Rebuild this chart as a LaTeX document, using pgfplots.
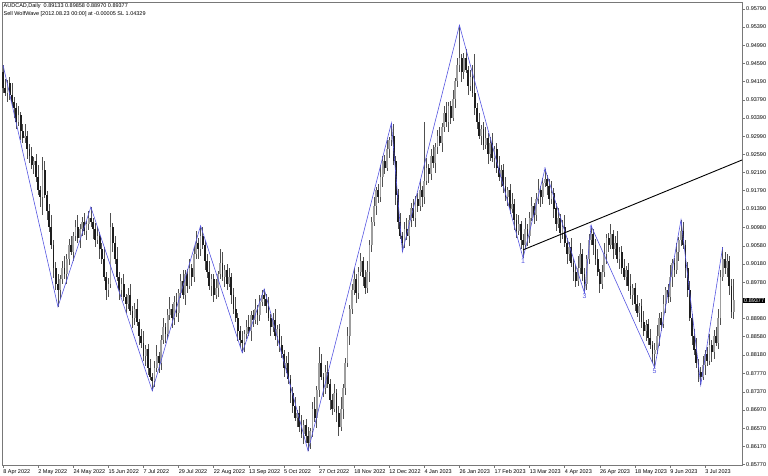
\documentclass[border=0pt]{standalone}
\usepackage{fontspec}
\setmainfont{Liberation Sans}
\usepackage{pgfplots}
\usepackage{pgfplotstable}
\pgfplotsset{compat=1.18}

\definecolor{zz}{RGB}{85,85,225}
\definecolor{bull}{RGB}{158,158,158}
\definecolor{bear}{RGB}{30,30,30}
\definecolor{wick}{RGB}{80,80,80}
\definecolor{frame}{RGB}{120,120,120}

% daily AUDCAD bars: bar index, open, high, low, close
\pgfplotstableread{
i o h l c
0 0.9440 0.9455 0.9395 0.9405
1 0.9405 0.9425 0.9387 0.9395
2 0.9395 0.9423 0.9375 0.9415
3 0.9415 0.9430 0.9378 0.9390
4 0.9390 0.9415 0.9365 0.9375
5 0.9375 0.9385 0.9338 0.9360
6 0.9360 0.9372 0.9315 0.9330
7 0.9330 0.9365 0.9322 0.9345
8 0.9345 0.9353 0.9290 0.9310
9 0.9310 0.9325 0.9283 0.9295
10 0.9295 0.9325 0.9285 0.9300
11 0.9300 0.9310 0.9248 0.9270
12 0.9270 0.9282 0.9240 0.9255
13 0.9255 0.9275 0.9227 0.9235
14 0.9235 0.9253 0.9215 0.9245
15 0.9245 0.9260 0.9198 0.9210
16 0.9210 0.9235 0.9170 0.9180
17 0.9180 0.9190 0.9143 0.9165
18 0.9165 0.9253 0.9125 0.9225
19 0.9225 0.9245 0.9162 0.9170
20 0.9170 0.9178 0.9115 0.9135
21 0.9135 0.9150 0.9088 0.9100
22 0.9100 0.9125 0.9050 0.9060
23 0.9060 0.9070 0.8988 0.9010
24 0.9010 0.9022 0.8960 0.8975
25 0.8975 0.8995 0.8924 0.8960
26 0.8960 0.8993 0.8940 0.8985
27 0.8985 0.9025 0.8973 0.9010
28 0.9010 0.9035 0.8985 0.8995
29 0.8995 0.9040 0.8973 0.9030
30 0.9030 0.9072 0.9015 0.9060
31 0.9060 0.9080 0.9037 0.9045
32 0.9045 0.9088 0.9025 0.9080
33 0.9080 0.9115 0.9068 0.9100
34 0.9100 0.9125 0.9065 0.9075
35 0.9075 0.9105 0.9053 0.9095
36 0.9095 0.9122 0.9080 0.9110
37 0.9110 0.9130 0.9082 0.9090
38 0.9090 0.9113 0.9070 0.9105
39 0.9105 0.9135 0.9093 0.9120
40 0.9120 0.9143 0.9100 0.9110
41 0.9110 0.9120 0.9073 0.9095
42 0.9095 0.9107 0.9055 0.9070
43 0.9070 0.9100 0.9062 0.9080
44 0.9080 0.9088 0.9030 0.9050
45 0.9050 0.9065 0.9018 0.9030
46 0.9030 0.9055 0.8980 0.8990
47 0.8990 0.9000 0.8938 0.8960
48 0.8960 0.8987 0.8945 0.8975
49 0.8975 0.9130 0.8965 0.9100
50 0.9100 0.9108 0.9045 0.9065
51 0.9065 0.9080 0.9018 0.9030
52 0.9030 0.9055 0.8980 0.8990
53 0.8990 0.9000 0.8938 0.8960
54 0.8960 0.8987 0.8945 0.8975
55 0.8975 0.8995 0.8937 0.8945
56 0.8945 0.8953 0.8910 0.8930
57 0.8930 0.8965 0.8918 0.8950
58 0.8950 0.8975 0.8905 0.8915
59 0.8915 0.8925 0.8878 0.8900
60 0.8900 0.8932 0.8885 0.8920
61 0.8920 0.8940 0.8882 0.8890
62 0.8890 0.8898 0.8840 0.8860
63 0.8860 0.8875 0.8833 0.8845
64 0.8845 0.8870 0.8805 0.8815
65 0.8815 0.8840 0.8793 0.8830
66 0.8830 0.8842 0.8775 0.8790
67 0.8790 0.8810 0.8762 0.8770
68 0.8770 0.8778 0.8739 0.8760
69 0.8760 0.8805 0.8748 0.8790
70 0.8790 0.8840 0.8780 0.8815
71 0.8815 0.8825 0.8778 0.8800
72 0.8800 0.8862 0.8785 0.8850
73 0.8850 0.8900 0.8842 0.8880
74 0.8880 0.8888 0.8845 0.8865
75 0.8865 0.8920 0.8853 0.8905
76 0.8905 0.8945 0.8895 0.8920
77 0.8920 0.8930 0.8878 0.8900
78 0.8900 0.8947 0.8885 0.8935
79 0.8935 0.8955 0.8902 0.8910
80 0.8910 0.8963 0.8890 0.8955
81 0.8955 0.8995 0.8943 0.8980
82 0.8980 0.9005 0.8940 0.8950
83 0.8950 0.9005 0.8928 0.8995
84 0.8995 0.9007 0.8955 0.8970
85 0.8970 0.9030 0.8962 0.9010
86 0.9010 0.9018 0.8970 0.8990
87 0.8990 0.9055 0.8978 0.9040
88 0.9040 0.9090 0.9030 0.9065
89 0.9065 0.9075 0.9028 0.9050
90 0.9050 0.9102 0.9035 0.9080
91 0.9080 0.9100 0.9052 0.9060
92 0.9060 0.9068 0.9005 0.9025
93 0.9025 0.9040 0.8988 0.9000
94 0.9000 0.9025 0.8960 0.8970
95 0.8970 0.8995 0.8948 0.8985
96 0.8985 0.8997 0.8935 0.8950
97 0.8950 0.8985 0.8942 0.8965
98 0.8965 0.9003 0.8945 0.8995
99 0.8995 0.9050 0.8985 0.9020
100 0.9020 0.9045 0.8980 0.8990
101 0.8990 0.9015 0.8968 0.9005
102 0.9005 0.9017 0.8960 0.8975
103 0.8975 0.9010 0.8967 0.8990
104 0.8990 0.8998 0.8930 0.8950
105 0.8950 0.8965 0.8908 0.8920
106 0.8920 0.8945 0.8890 0.8900
107 0.8900 0.8910 0.8848 0.8870
108 0.8870 0.8882 0.8835 0.8850
109 0.8850 0.8870 0.8823 0.8845
110 0.8845 0.8873 0.8825 0.8865
111 0.8865 0.8895 0.8853 0.8880
112 0.8880 0.8905 0.8860 0.8870
113 0.8870 0.8915 0.8848 0.8905
114 0.8905 0.8917 0.8880 0.8895
115 0.8895 0.8940 0.8887 0.8920
116 0.8920 0.8928 0.8885 0.8905
117 0.8905 0.8950 0.8893 0.8935
118 0.8935 0.8960 0.8925 0.8950
119 0.8950 0.8963 0.8925 0.8940
120 0.8940 0.8952 0.8910 0.8925
121 0.8925 0.8945 0.8892 0.8900
122 0.8900 0.8908 0.8860 0.8880
123 0.8880 0.8910 0.8868 0.8895
124 0.8895 0.8920 0.8850 0.8860
125 0.8860 0.8885 0.8838 0.8875
126 0.8875 0.8887 0.8825 0.8840
127 0.8840 0.8860 0.8812 0.8820
128 0.8820 0.8828 0.8770 0.8790
129 0.8790 0.8815 0.8778 0.8800
130 0.8800 0.8825 0.8755 0.8765
131 0.8765 0.8775 0.8713 0.8735
132 0.8735 0.8747 0.8690 0.8705
133 0.8705 0.8725 0.8672 0.8680
134 0.8680 0.8698 0.8660 0.8690
135 0.8690 0.8705 0.8648 0.8660
136 0.8660 0.8685 0.8635 0.8645
137 0.8645 0.8675 0.8623 0.8665
138 0.8665 0.8677 0.8625 0.8640
139 0.8640 0.8660 0.8607 0.8625
140 0.8625 0.8658 0.8612 0.8650
141 0.8650 0.8715 0.8638 0.8700
142 0.8700 0.8725 0.8670 0.8680
143 0.8680 0.8750 0.8658 0.8740
144 0.8740 0.8835 0.8725 0.8800
145 0.8800 0.8820 0.8762 0.8770
146 0.8770 0.8778 0.8725 0.8745
147 0.8745 0.8795 0.8733 0.8780
148 0.8780 0.8805 0.8745 0.8755
149 0.8755 0.8765 0.8698 0.8720
150 0.8720 0.8732 0.8685 0.8700
151 0.8700 0.8755 0.8692 0.8735
152 0.8735 0.8743 0.8670 0.8690
153 0.8690 0.8705 0.8640 0.8660
154 0.8660 0.8725 0.8650 0.8700
155 0.8700 0.8755 0.8678 0.8745
156 0.8745 0.8812 0.8730 0.8800
157 0.8800 0.8880 0.8792 0.8860
158 0.8860 0.8928 0.8840 0.8920
159 0.8920 0.8975 0.8908 0.8960
160 0.8960 0.9010 0.8950 0.8985
161 0.8985 0.8995 0.8933 0.8955
162 0.8955 0.9012 0.8940 0.9000
163 0.9000 0.9042 0.8992 0.9025
164 0.9025 0.9033 0.8970 0.8990
165 0.8990 0.9005 0.8953 0.8965
166 0.8965 0.9025 0.8955 0.9000
167 0.9000 0.9070 0.8978 0.9060
168 0.9060 0.9122 0.9045 0.9110
169 0.9110 0.9165 0.9102 0.9145
170 0.9145 0.9188 0.9125 0.9180
171 0.9180 0.9195 0.9153 0.9165
172 0.9165 0.9235 0.9155 0.9210
173 0.9210 0.9255 0.9188 0.9245
174 0.9245 0.9257 0.9215 0.9230
175 0.9230 0.9290 0.9222 0.9270
176 0.9270 0.9298 0.9250 0.9290
177 0.9290 0.9328 0.9278 0.9300
178 0.9300 0.9325 0.9235 0.9245
179 0.9245 0.9255 0.9148 0.9170
180 0.9170 0.9182 0.9095 0.9110
181 0.9110 0.9130 0.9072 0.9080
182 0.9080 0.9088 0.9045 0.9065
183 0.9065 0.9110 0.9053 0.9095
184 0.9095 0.9120 0.9070 0.9080
185 0.9080 0.9125 0.9058 0.9115
186 0.9115 0.9152 0.9100 0.9140
187 0.9140 0.9160 0.9112 0.9120
188 0.9120 0.9168 0.9100 0.9160
189 0.9160 0.9175 0.9133 0.9145
190 0.9145 0.9205 0.9135 0.9180
191 0.9180 0.9190 0.9143 0.9165
192 0.9165 0.9330 0.9150 0.9200
193 0.9200 0.9250 0.9192 0.9230
194 0.9230 0.9238 0.9195 0.9215
195 0.9215 0.9270 0.9203 0.9255
196 0.9255 0.9280 0.9230 0.9240
197 0.9240 0.9285 0.9218 0.9275
198 0.9275 0.9312 0.9260 0.9300
199 0.9300 0.9320 0.9277 0.9285
200 0.9285 0.9328 0.9265 0.9320
201 0.9320 0.9365 0.9308 0.9350
202 0.9350 0.9375 0.9320 0.9330
203 0.9330 0.9375 0.9308 0.9365
204 0.9365 0.9377 0.9325 0.9340
205 0.9340 0.9400 0.9332 0.9380
206 0.9380 0.9428 0.9360 0.9420
207 0.9420 0.9470 0.9408 0.9455
208 0.9455 0.9543 0.9440 0.9470
209 0.9470 0.9480 0.9418 0.9440
210 0.9440 0.9482 0.9425 0.9470
211 0.9470 0.9490 0.9437 0.9445
212 0.9445 0.9453 0.9390 0.9410
213 0.9410 0.9445 0.9398 0.9430
214 0.9430 0.9455 0.9385 0.9395
215 0.9395 0.9480 0.9345 0.9360
216 0.9360 0.9372 0.9315 0.9330
217 0.9330 0.9350 0.9292 0.9300
218 0.9300 0.9323 0.9280 0.9315
219 0.9315 0.9330 0.9268 0.9280
220 0.9280 0.9320 0.9270 0.9295
221 0.9295 0.9305 0.9238 0.9260
222 0.9260 0.9297 0.9245 0.9285
223 0.9285 0.9305 0.9242 0.9250
224 0.9250 0.9278 0.9230 0.9270
225 0.9270 0.9285 0.9218 0.9230
226 0.9230 0.9255 0.9200 0.9210
227 0.9210 0.9235 0.9188 0.9225
228 0.9225 0.9237 0.9175 0.9190
229 0.9190 0.9210 0.9157 0.9165
230 0.9165 0.9188 0.9145 0.9180
231 0.9180 0.9195 0.9128 0.9140
232 0.9140 0.9175 0.9130 0.9150
233 0.9150 0.9160 0.9093 0.9115
234 0.9115 0.9127 0.9075 0.9090
235 0.9090 0.9125 0.9082 0.9105
236 0.9105 0.9113 0.9050 0.9070
237 0.9070 0.9085 0.9031 0.9060
238 0.9060 0.9120 0.9050 0.9095
239 0.9095 0.9105 0.9058 0.9080
240 0.9080 0.9132 0.9065 0.9120
241 0.9120 0.9165 0.9112 0.9145
242 0.9145 0.9153 0.9105 0.9125
243 0.9125 0.9175 0.9113 0.9160
244 0.9160 0.9205 0.9150 0.9180
245 0.9180 0.9190 0.9143 0.9165
246 0.9165 0.9207 0.9150 0.9195
247 0.9195 0.9227 0.9187 0.9205
248 0.9205 0.9213 0.9170 0.9190
249 0.9190 0.9205 0.9148 0.9160
250 0.9160 0.9200 0.9150 0.9175
251 0.9175 0.9185 0.9118 0.9140
252 0.9140 0.9152 0.9090 0.9105
253 0.9105 0.9140 0.9097 0.9120
254 0.9120 0.9128 0.9065 0.9085
255 0.9085 0.9115 0.9073 0.9100
256 0.9100 0.9125 0.9055 0.9065
257 0.9065 0.9075 0.9018 0.9040
258 0.9040 0.9067 0.9025 0.9055
259 0.9055 0.9075 0.9012 0.9020
260 0.9020 0.9028 0.8980 0.9000
261 0.9000 0.9015 0.8968 0.8980
262 0.8980 0.9035 0.8970 0.9010
263 0.9010 0.9065 0.8995 0.9040
264 0.9040 0.9052 0.8980 0.8995
265 0.8995 0.9010 0.8954 0.8975
266 0.8975 0.9038 0.8960 0.9030
267 0.9030 0.9085 0.9018 0.9070
268 0.9070 0.9102 0.9060 0.9085
269 0.9085 0.9095 0.9038 0.9060
270 0.9060 0.9072 0.9015 0.9030
271 0.9030 0.9050 0.8992 0.9000
272 0.9000 0.9008 0.8955 0.8975
273 0.8975 0.9015 0.8963 0.9000
274 0.9000 0.9065 0.8990 0.9040
275 0.9040 0.9085 0.9018 0.9075
276 0.9075 0.9087 0.9045 0.9060
277 0.9060 0.9105 0.9052 0.9085
278 0.9085 0.9093 0.9030 0.9050
279 0.9050 0.9080 0.9038 0.9065
280 0.9065 0.9090 0.9020 0.9030
281 0.9030 0.9055 0.9008 0.9045
282 0.9045 0.9057 0.8995 0.9010
283 0.9010 0.9030 0.8982 0.8990
284 0.8990 0.9013 0.8970 0.9005
285 0.9005 0.9020 0.8958 0.8970
286 0.8970 0.8995 0.8940 0.8950
287 0.8950 0.8975 0.8928 0.8965
288 0.8965 0.8977 0.8915 0.8930
289 0.8930 0.8950 0.8902 0.8910
290 0.8910 0.8933 0.8890 0.8925
291 0.8925 0.8940 0.8878 0.8890
292 0.8890 0.8915 0.8860 0.8870
293 0.8870 0.8895 0.8848 0.8885
294 0.8885 0.8897 0.8840 0.8855
295 0.8855 0.8875 0.8832 0.8840
296 0.8840 0.8848 0.8800 0.8820
297 0.8820 0.8845 0.8790 0.8830
298 0.8830 0.8885 0.8820 0.8860
299 0.8860 0.8910 0.8838 0.8900
300 0.8900 0.8912 0.8870 0.8885
301 0.8885 0.8950 0.8877 0.8930
302 0.8930 0.8968 0.8910 0.8960
303 0.8960 0.8975 0.8933 0.8945
304 0.8945 0.9015 0.8935 0.8990
305 0.8990 0.9030 0.8968 0.9020
306 0.9020 0.9032 0.8990 0.9005
307 0.9005 0.9065 0.8997 0.9045
308 0.9045 0.9078 0.9025 0.9070
309 0.9070 0.9115 0.9058 0.9090
310 0.9090 0.9110 0.9050 0.9060
311 0.9060 0.9070 0.8988 0.9010
312 0.9010 0.9022 0.8945 0.8960
313 0.8960 0.8980 0.8892 0.8900
314 0.8900 0.8908 0.8840 0.8860
315 0.8860 0.8875 0.8818 0.8830
316 0.8830 0.8855 0.8790 0.8800
317 0.8800 0.8810 0.8758 0.8780
318 0.8780 0.8792 0.8752 0.8770
319 0.8770 0.8815 0.8762 0.8795
320 0.8795 0.8828 0.8775 0.8820
321 0.8820 0.8835 0.8793 0.8805
322 0.8805 0.8865 0.8795 0.8840
323 0.8840 0.8850 0.8803 0.8825
324 0.8825 0.8872 0.8810 0.8860
325 0.8860 0.8880 0.8837 0.8845
326 0.8845 0.8920 0.8830 0.8900
327 0.8900 0.9005 0.8885 0.8990
328 0.8990 0.9055 0.8980 0.9030
329 0.9030 0.9045 0.8995 0.9010
330 0.9010 0.9040 0.8990 0.9025
331 0.9025 0.9035 0.8950 0.8970
332 0.8970 0.8985 0.8900 0.8913
333 0.8913 0.8986 0.8897 0.8938
}\ohlc

\begin{document}
\begin{tikzpicture}[x=1pt,y=1pt]
\path[use as bounding box] (0,0) rectangle (768,476);
\begin{axis}[
    at={(2pt,11pt)}, anchor=south west,
    scale only axis, width=740pt, height=463pt,
    xmin=-0.5, xmax=336.8,
    ymin=0.8576, ymax=0.9594,
    clip mode=individual,
    axis line style={frame, line width=0.7pt},
    tick align=outside,
    major tick length=3pt,
    tick style={frame, line width=0.5pt},
    xtick pos=bottom, ytick pos=right,
    yticklabel pos=right,
    scaled y ticks=false,
    font=\fontsize{5.5}{6}\selectfont,
    xtick={0,16,...,320},
    xticklabels={8 Apr 2022,2 May 2022,24 May 2022,15 Jun 2022,7 Jul 2022,
        29 Jul 2022,22 Aug 2022,13 Sep 2022,5 Oct 2022,27 Oct 2022,
        18 Nov 2022,12 Dec 2022,4 Jan 2023,26 Jan 2023,17 Feb 2023,
        13 Mar 2023,4 Apr 2023,26 Apr 2023,18 May 2023,9 Jun 2023,3 Jul 2023},
    xticklabel style={anchor=north west, xshift=-1pt, inner sep=1pt},
    ytick={0.9579,0.9539,0.9499,0.9459,0.9419,0.9379,0.9339,0.9299,0.9259,
        0.9219,0.9179,0.9139,0.9098,0.9058,0.9018,0.8978,0.8898,0.8858,
        0.8818,0.8777,0.8737,0.8697,0.8657,0.8617,0.8577},
    yticklabels={0.95790,0.95390,0.94990,0.94590,0.94190,0.93790,0.93390,
        0.92990,0.92590,0.92190,0.91790,0.91390,0.90980,0.90580,0.90180,
        0.89780,0.88980,0.88580,0.88180,0.87770,0.87370,0.86970,0.86570,
        0.86170,0.85770},
    yticklabel style={anchor=west, inner sep=1pt},
]
% wicks
\addplot[draw=none, mark=none,
    error bars/.cd, y dir=both, y explicit, error mark=none,
    error bar style={draw=wick, solid, line width=0.7pt}]
    table[x=i, y expr=(\thisrow{h}+\thisrow{l})/2,
          y error expr=(\thisrow{h}-\thisrow{l})/2] {\ohlc};
% rising bodies
\addplot[draw=none, mark=none,
    restrict expr to domain={\thisrow{c}-\thisrow{o}}{0:1},
    error bars/.cd, y dir=both, y explicit, error mark=none,
    error bar style={draw=bull, solid, line width=1.8pt}]
    table[x=i, y expr=(\thisrow{o}+\thisrow{c})/2,
          y error expr=abs(\thisrow{c}-\thisrow{o})/2] {\ohlc};
% falling bodies
\addplot[draw=none, mark=none,
    restrict expr to domain={\thisrow{o}-\thisrow{c}}{0.00001:1},
    error bars/.cd, y dir=both, y explicit, error mark=none,
    error bar style={draw=bear, solid, line width=1.8pt}]
    table[x=i, y expr=(\thisrow{o}+\thisrow{c})/2,
          y error expr=abs(\thisrow{c}-\thisrow{o})/2] {\ohlc};

% wolfe wave zigzag
\addplot[zz, line width=0.6pt, mark=none] coordinates {
    (0,0.9455) (25,0.8924) (40,0.9143) (68,0.8739) (90,0.9102)
    (109,0.8823) (119,0.8963) (139,0.8607) (177,0.9328) (182,0.9045)
    (208,0.9543) (237,0.9031) (247,0.9227) (265,0.8954) (268,0.9102)
    (297,0.8790) (309,0.9115) (318,0.8752) (328,0.9055)};
% 1-4 line
\addplot[black, line width=0.9pt, mark=none] coordinates {(237,0.9049) (337,0.9247)};

\node[zz, anchor=north, inner sep=0.5pt, font=\fontsize{7}{7}\selectfont] at (axis cs:237,0.9031) {1};
\node[zz, anchor=south, inner sep=0.3pt, font=\fontsize{5}{5}\selectfont] at (axis cs:247,0.9220) {2};
\node[zz, anchor=north, inner sep=0.5pt, font=\fontsize{7}{7}\selectfont] at (axis cs:265,0.8954) {3};
\node[zz, anchor=south, inner sep=0.3pt, font=\fontsize{5}{5}\selectfont] at (axis cs:268,0.9095) {4};
\node[zz, anchor=north, inner sep=0.5pt, font=\fontsize{7}{7}\selectfont] at (axis cs:297,0.8790) {5};

% header
\node[anchor=north west, align=left, inner sep=0pt,
      font=\fontsize{5.5}{8}\selectfont] at ([xshift=1.5pt,yshift=-1.5pt]rel axis cs:0,1)
    {AUDCAD,Daily\ \ 0.89133 0.89858 0.88970 0.89377\\
     Sell WolfWave [2012.08.23 00:00] at -0.00005 SL 1.04329};
% price tag
\node[anchor=west, fill=black, text=white, inner sep=1pt,
      font=\fontsize{5.5}{6}\selectfont] at ([xshift=1pt]axis cs:336.8,0.89377) {0.89377};
\end{axis}
\end{tikzpicture}
\end{document}
